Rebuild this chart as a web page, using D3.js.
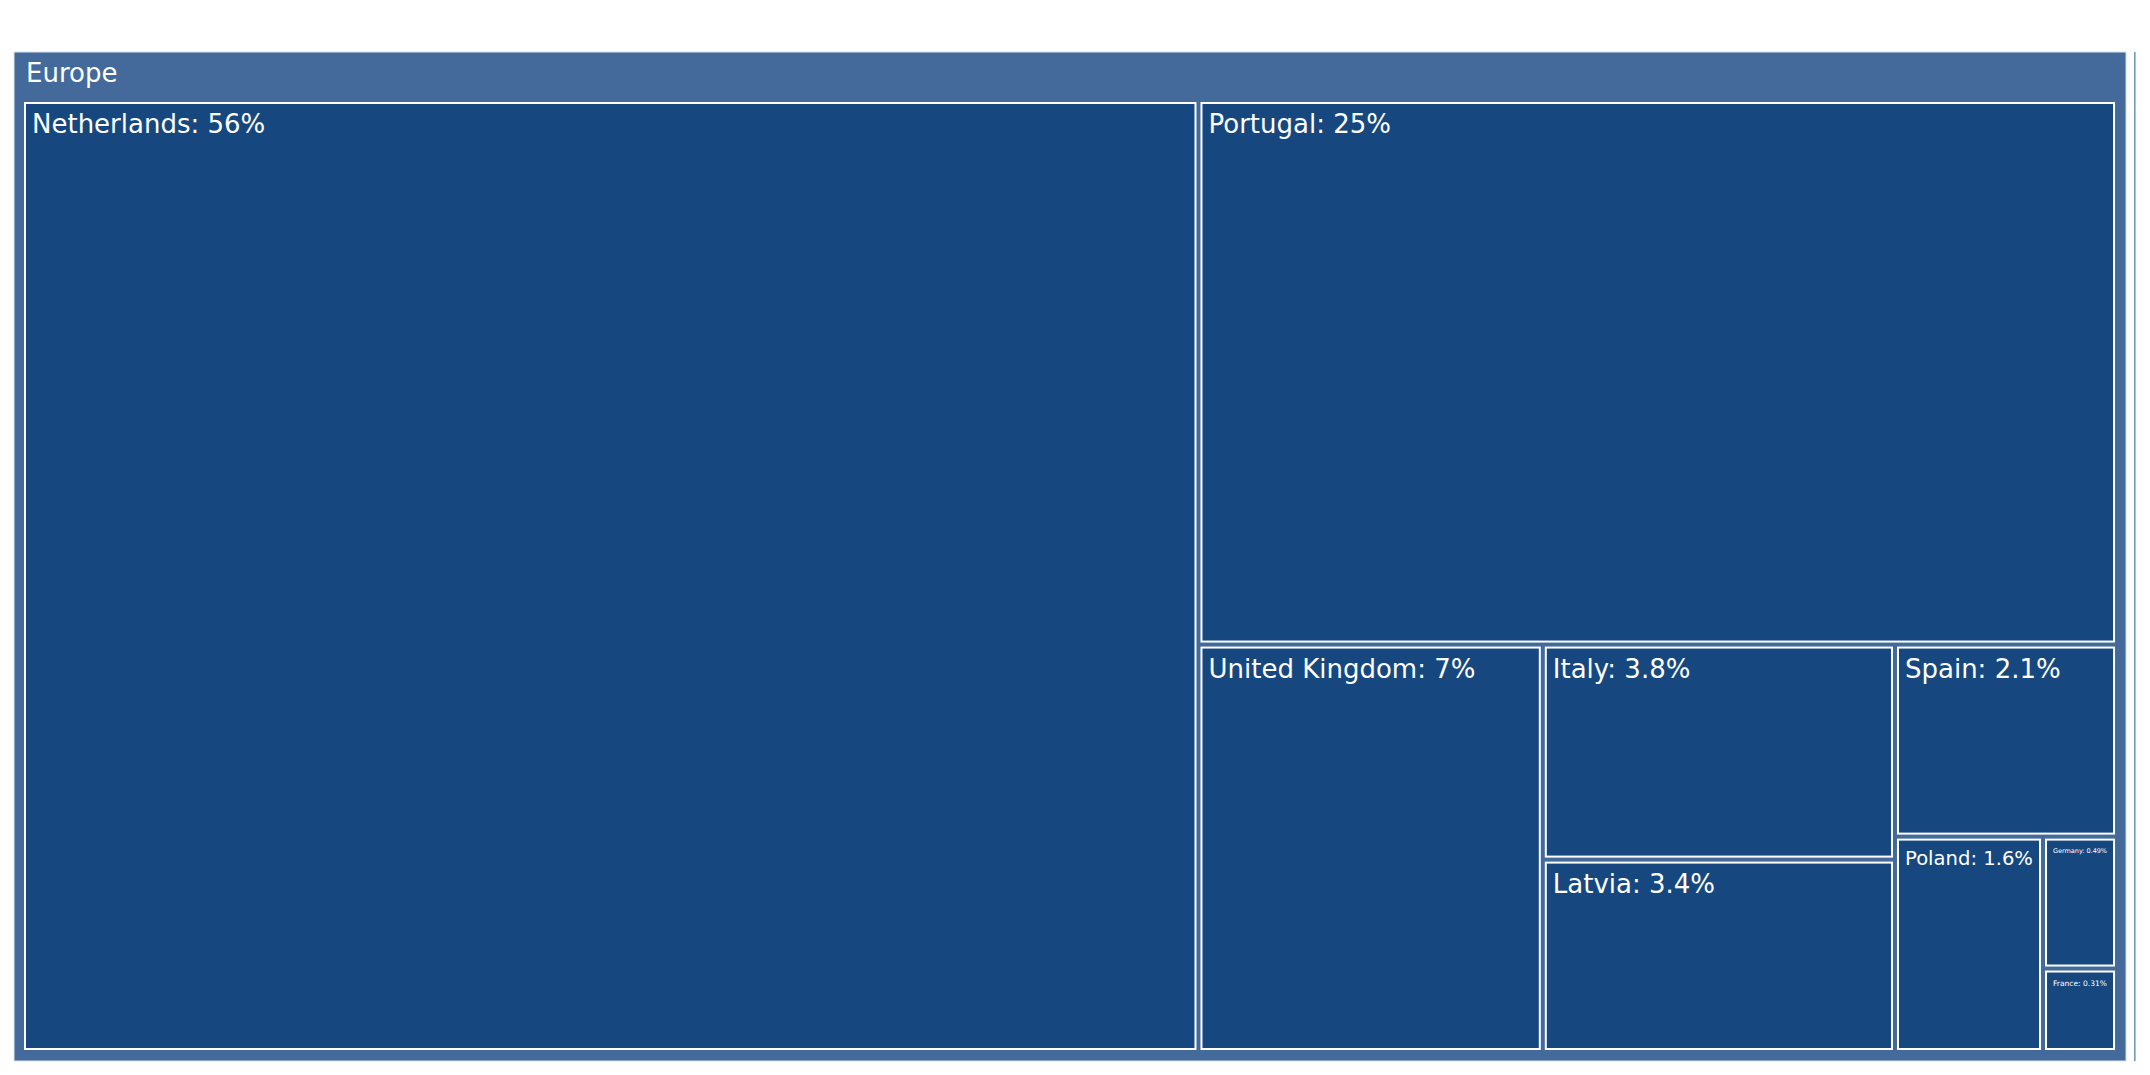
<!DOCTYPE html>
<html>
<head>
<meta charset="utf-8">
<script src="https://cdn.jsdelivr.net/npm/d3@7"></script>
<style>
  html, body { margin: 0; padding: 0; background: #ffffff; }
  svg { display: block; }
  text { font-family: "DejaVu Sans", sans-serif; }
</style>
</head>
<body>
<svg id="chart" width="2150" height="1075"></svg>
<script>
// ---- data ----
const regionName = "Europe";
const countries = ["Netherlands", "Portugal", "United Kingdom", "Italy", "Latvia", "Spain", "Poland", "Germany", "France"];
const shares = [56.2, 25.1, 7.04, 3.8, 3.4, 2.14, 1.6, 0.49, 0.31];
const otherName = "Other";
const otherShare = 0.47;

(function () {
  // ---- layout ----
  const plot = { x: 14, y: 52, w: 2122, h: 1009 };
  const colors = { region: "#436a9b", leaf: "#16487f", other: "#7398bd" };
  const baseFont = 26;

  const svg = d3.select("#chart");

  const data = {
    name: "root",
    children: [
      { name: regionName, children: countries.map((c, i) => ({ name: c, value: shares[i] })) },
      { name: otherName, value: otherShare }
    ]
  };

  const root = d3.hierarchy(data)
    .sum(d => d.value || 0)
    .sort((a, b) => b.value - a.value);

  d3.treemap()
    .tile(d3.treemapSquarify.ratio(1))
    .size([plot.w, plot.h])
    .paddingInner(d => d.depth === 0 ? 8 : 6)
    .paddingTop(d => d.depth === 1 ? 51 : 0)
    .paddingLeft(d => d.depth === 1 ? 11 : 0)
    .paddingRight(d => d.depth === 1 ? 12 : 0)
    .paddingBottom(d => d.depth === 1 ? 12 : 0)(root);

  const g = svg.append("g").attr("transform", `translate(${plot.x},${plot.y})`);

  const topNodes = root.children;
  const europe = topNodes.find(d => d.data.name === regionName);
  const other = topNodes.find(d => d.data.name === otherName);

  // region container
  g.append("rect")
    .attr("x", europe.x0).attr("y", europe.y0)
    .attr("width", europe.x1 - europe.x0).attr("height", europe.y1 - europe.y0)
    .attr("fill", colors.region)
    .attr("stroke", "#dce6f0").attr("stroke-width", 1);

  g.append("text")
    .attr("x", europe.x0 + 12)
    .attr("y", europe.y0 + 11 + 0.73 * baseFont)
    .attr("font-size", baseFont)
    .attr("fill", "#ffffff")
    .text(regionName);

  // tiny other sliver (drawn as a thin edge at the right of its cell)
  g.append("rect")
    .attr("x", other.x1 - 2).attr("y", other.y0)
    .attr("width", 1.6).attr("height", other.y1 - other.y0)
    .attr("fill", colors.other);

  // leaves
  const total = europe.value;
  const fmt = d3.format(".2~p");
  const leaves = europe.children;

  const leafG = g.selectAll("g.leaf").data(leaves).join("g").attr("class", "leaf");

  leafG.append("rect")
    .attr("x", d => d.x0).attr("y", d => d.y0)
    .attr("width", d => d.x1 - d.x0).attr("height", d => d.y1 - d.y0)
    .attr("fill", colors.leaf)
    .attr("stroke", "#ffffff").attr("stroke-width", 2);

  leafG.append("text")
    .attr("fill", "#ffffff")
    .attr("font-size", baseFont)
    .text(d => `${d.data.name}: ${fmt(d.value / total)}`)
    .each(function (d) {
      const t = d3.select(this);
      const tw = this.getComputedTextLength();
      const avail = (d.x1 - d.x0) - 14;
      let fs = baseFont;
      if (tw > avail) {
        fs = baseFont * avail / tw;
        t.attr("font-size", fs)
          .attr("text-anchor", "middle")
          .attr("x", (d.x0 + d.x1) / 2);
      } else {
        t.attr("x", d.x0 + 7);
      }
      t.attr("y", d.y0 + (fs < 12 ? 8.5 : 11.5) + 0.73 * fs);
    });
})();
</script>
</body>
</html>
